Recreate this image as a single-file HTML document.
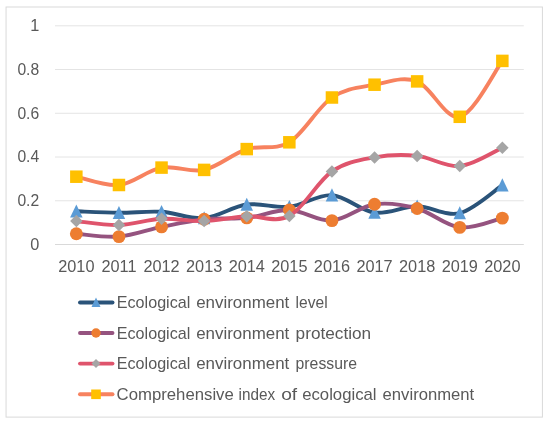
<!DOCTYPE html>
<html><head><meta charset="utf-8"><title>Chart</title>
<style>
html,body{margin:0;padding:0;background:#fff;}
body{width:550px;height:424px;overflow:hidden;}
svg{display:block;}
text{font-family:"Liberation Sans","DejaVu Sans",sans-serif;fill:#595959;}
.ax{font-size:16.3px;}
.lg{font-size:15.7px;}
</style></head><body>
<svg width="550" height="424" viewBox="0 0 550 424">
<rect x="0" y="0" width="550" height="424" fill="#ffffff"/>
<rect x="6.05" y="7" width="536.35" height="410.1" fill="#ffffff" stroke="#d9d9d9" stroke-width="1"/>
<line x1="55" x2="523.8" y1="25.80" y2="25.80" stroke="#e4e4e4" stroke-width="1"/>
<line x1="55" x2="523.8" y1="69.54" y2="69.54" stroke="#e4e4e4" stroke-width="1"/>
<line x1="55" x2="523.8" y1="113.28" y2="113.28" stroke="#e4e4e4" stroke-width="1"/>
<line x1="55" x2="523.8" y1="157.02" y2="157.02" stroke="#e4e4e4" stroke-width="1"/>
<line x1="55" x2="523.8" y1="200.76" y2="200.76" stroke="#e4e4e4" stroke-width="1"/>
<line x1="55" x2="523.8" y1="244.50" y2="244.50" stroke="#d9d9d9" stroke-width="1"/>
<text class="ax" x="39.2" y="31.10" text-anchor="end">1</text>
<text class="ax" x="39.2" y="74.84" text-anchor="end" textLength="21.8" lengthAdjust="spacingAndGlyphs">0.8</text>
<text class="ax" x="39.2" y="118.58" text-anchor="end" textLength="21.8" lengthAdjust="spacingAndGlyphs">0.6</text>
<text class="ax" x="39.2" y="162.32" text-anchor="end" textLength="21.8" lengthAdjust="spacingAndGlyphs">0.4</text>
<text class="ax" x="39.2" y="206.06" text-anchor="end" textLength="21.8" lengthAdjust="spacingAndGlyphs">0.2</text>
<text class="ax" x="39.2" y="249.80" text-anchor="end">0</text>
<text class="ax" x="76.35" y="272.3" text-anchor="middle">2010</text>
<text class="ax" x="118.95" y="272.3" text-anchor="middle">2011</text>
<text class="ax" x="161.55" y="272.3" text-anchor="middle">2012</text>
<text class="ax" x="204.15" y="272.3" text-anchor="middle">2013</text>
<text class="ax" x="246.75" y="272.3" text-anchor="middle">2014</text>
<text class="ax" x="289.35" y="272.3" text-anchor="middle">2015</text>
<text class="ax" x="331.95" y="272.3" text-anchor="middle">2016</text>
<text class="ax" x="374.55" y="272.3" text-anchor="middle">2017</text>
<text class="ax" x="417.15" y="272.3" text-anchor="middle">2018</text>
<text class="ax" x="459.75" y="272.3" text-anchor="middle">2019</text>
<text class="ax" x="502.35" y="272.3" text-anchor="middle">2020</text>
<path d="M76.35,211.30 C83.45,211.55 104.75,212.72 118.95,212.80 C133.15,212.88 147.35,210.92 161.55,211.80 C175.75,212.68 189.95,219.32 204.15,218.10 C218.35,216.88 232.55,206.38 246.75,204.50 C260.95,202.62 275.15,208.35 289.35,206.80 C303.55,205.25 317.75,194.23 331.95,195.20 C346.15,196.17 360.35,210.75 374.55,212.60 C388.75,214.45 402.95,206.22 417.15,206.30 C431.35,206.38 445.55,216.62 459.75,213.10 C473.95,209.58 495.25,189.85 502.35,185.20" fill="none" stroke="#2a5379" stroke-width="3.9" stroke-linecap="round" stroke-linejoin="round"/>
<polygon points="76.35,204.45 82.60,217.55 70.10,217.55" fill="#5b9bd5"/>
<polygon points="118.95,205.95 125.20,219.05 112.70,219.05" fill="#5b9bd5"/>
<polygon points="161.55,204.95 167.80,218.05 155.30,218.05" fill="#5b9bd5"/>
<polygon points="204.15,211.25 210.40,224.35 197.90,224.35" fill="#5b9bd5"/>
<polygon points="246.75,197.65 253.00,210.75 240.50,210.75" fill="#5b9bd5"/>
<polygon points="289.35,199.95 295.60,213.05 283.10,213.05" fill="#5b9bd5"/>
<polygon points="331.95,188.35 338.20,201.45 325.70,201.45" fill="#5b9bd5"/>
<polygon points="374.55,205.75 380.80,218.85 368.30,218.85" fill="#5b9bd5"/>
<polygon points="417.15,199.45 423.40,212.55 410.90,212.55" fill="#5b9bd5"/>
<polygon points="459.75,206.25 466.00,219.35 453.50,219.35" fill="#5b9bd5"/>
<polygon points="502.35,178.35 508.60,191.45 496.10,191.45" fill="#5b9bd5"/>
<path d="M76.35,233.70 C83.45,234.18 104.75,237.73 118.95,236.60 C133.15,235.47 147.35,229.80 161.55,226.90 C175.75,224.00 189.95,220.70 204.15,219.20 C218.35,217.70 232.55,219.43 246.75,217.90 C260.95,216.37 275.15,209.55 289.35,210.00 C303.55,210.45 317.75,221.55 331.95,220.60 C346.15,219.65 360.35,206.32 374.55,204.30 C388.75,202.28 402.95,204.65 417.15,208.50 C431.35,212.35 445.55,225.80 459.75,227.40 C473.95,229.00 495.25,219.65 502.35,218.10" fill="none" stroke="#95537f" stroke-width="3.9" stroke-linecap="round" stroke-linejoin="round"/>
<circle cx="76.35" cy="233.70" r="6.45" fill="#ed7d31"/>
<circle cx="118.95" cy="236.60" r="6.45" fill="#ed7d31"/>
<circle cx="161.55" cy="226.90" r="6.45" fill="#ed7d31"/>
<circle cx="204.15" cy="219.20" r="6.45" fill="#ed7d31"/>
<circle cx="246.75" cy="217.90" r="6.45" fill="#ed7d31"/>
<circle cx="289.35" cy="210.00" r="6.45" fill="#ed7d31"/>
<circle cx="331.95" cy="220.60" r="6.45" fill="#ed7d31"/>
<circle cx="374.55" cy="204.30" r="6.45" fill="#ed7d31"/>
<circle cx="417.15" cy="208.50" r="6.45" fill="#ed7d31"/>
<circle cx="459.75" cy="227.40" r="6.45" fill="#ed7d31"/>
<circle cx="502.35" cy="218.10" r="6.45" fill="#ed7d31"/>
<path d="M76.35,221.10 C83.45,221.77 104.75,225.48 118.95,225.10 C133.15,224.72 147.35,219.47 161.55,218.80 C175.75,218.13 189.95,221.52 204.15,221.10 C218.35,220.68 232.55,217.15 246.75,216.30 C260.95,215.45 275.15,223.48 289.35,216.00 C303.55,208.52 317.75,181.17 331.95,171.40 C346.15,161.63 360.35,159.98 374.55,157.40 C388.75,154.82 402.95,154.45 417.15,155.90 C431.35,157.35 445.55,167.45 459.75,166.10 C473.95,164.75 495.25,150.85 502.35,147.80" fill="none" stroke="#df546c" stroke-width="3.9" stroke-linecap="round" stroke-linejoin="round"/>
<polygon points="76.35,214.85 82.60,221.10 76.35,227.35 70.10,221.10" fill="#a5a5a5"/>
<polygon points="118.95,218.85 125.20,225.10 118.95,231.35 112.70,225.10" fill="#a5a5a5"/>
<polygon points="161.55,212.55 167.80,218.80 161.55,225.05 155.30,218.80" fill="#a5a5a5"/>
<polygon points="204.15,214.85 210.40,221.10 204.15,227.35 197.90,221.10" fill="#a5a5a5"/>
<polygon points="246.75,210.05 253.00,216.30 246.75,222.55 240.50,216.30" fill="#a5a5a5"/>
<polygon points="289.35,209.75 295.60,216.00 289.35,222.25 283.10,216.00" fill="#a5a5a5"/>
<polygon points="331.95,165.15 338.20,171.40 331.95,177.65 325.70,171.40" fill="#a5a5a5"/>
<polygon points="374.55,151.15 380.80,157.40 374.55,163.65 368.30,157.40" fill="#a5a5a5"/>
<polygon points="417.15,149.65 423.40,155.90 417.15,162.15 410.90,155.90" fill="#a5a5a5"/>
<polygon points="459.75,159.85 466.00,166.10 459.75,172.35 453.50,166.10" fill="#a5a5a5"/>
<polygon points="502.35,141.55 508.60,147.80 502.35,154.05 496.10,147.80" fill="#a5a5a5"/>
<path d="M76.35,176.70 C83.45,178.08 104.75,186.52 118.95,185.00 C133.15,183.48 147.35,170.12 161.55,167.60 C175.75,165.08 189.95,172.98 204.15,169.90 C218.35,166.82 232.55,153.70 246.75,149.10 C260.95,144.50 275.15,150.90 289.35,142.30 C303.55,133.70 317.75,107.10 331.95,97.50 C346.15,87.90 360.35,87.38 374.55,84.70 C388.75,82.02 402.95,76.05 417.15,81.40 C431.35,86.75 445.55,120.22 459.75,116.80 C473.95,113.38 495.25,70.22 502.35,60.90" fill="none" stroke="#f7825f" stroke-width="3.9" stroke-linecap="round" stroke-linejoin="round"/>
<rect x="70.10" y="170.45" width="12.50" height="12.50" fill="#ffc000"/>
<rect x="112.70" y="178.75" width="12.50" height="12.50" fill="#ffc000"/>
<rect x="155.30" y="161.35" width="12.50" height="12.50" fill="#ffc000"/>
<rect x="197.90" y="163.65" width="12.50" height="12.50" fill="#ffc000"/>
<rect x="240.50" y="142.85" width="12.50" height="12.50" fill="#ffc000"/>
<rect x="283.10" y="136.05" width="12.50" height="12.50" fill="#ffc000"/>
<rect x="325.70" y="91.25" width="12.50" height="12.50" fill="#ffc000"/>
<rect x="368.30" y="78.45" width="12.50" height="12.50" fill="#ffc000"/>
<rect x="410.90" y="75.15" width="12.50" height="12.50" fill="#ffc000"/>
<rect x="453.50" y="110.55" width="12.50" height="12.50" fill="#ffc000"/>
<rect x="496.10" y="54.65" width="12.50" height="12.50" fill="#ffc000"/>
<line x1="80" x2="112.5" y1="302.50" y2="302.50" stroke="#2a5379" stroke-width="3.9" stroke-linecap="round"/>
<polygon points="96.00,297.40 100.50,307.00 91.50,307.00" fill="#5b9bd5"/>
<text class="lg" y="308.10"><tspan x="116.8" textLength="73.5" lengthAdjust="spacingAndGlyphs">Ecological</tspan> <tspan x="196.2" textLength="93.1" lengthAdjust="spacingAndGlyphs">environment</tspan> <tspan x="295.6" textLength="32.0" lengthAdjust="spacingAndGlyphs">level</tspan></text>
<line x1="80" x2="112.5" y1="333.00" y2="333.00" stroke="#95537f" stroke-width="3.9" stroke-linecap="round"/>
<circle cx="96.00" cy="333.00" r="4.70" fill="#ed7d31"/>
<text class="lg" y="338.60"><tspan x="116.8" textLength="73.5" lengthAdjust="spacingAndGlyphs">Ecological</tspan> <tspan x="196.2" textLength="93.1" lengthAdjust="spacingAndGlyphs">environment</tspan> <tspan x="295.6" textLength="75.6" lengthAdjust="spacingAndGlyphs">protection</tspan></text>
<line x1="80" x2="112.5" y1="363.60" y2="363.60" stroke="#df546c" stroke-width="3.9" stroke-linecap="round"/>
<polygon points="96.00,359.10 100.50,363.60 96.00,368.10 91.50,363.60" fill="#a5a5a5"/>
<text class="lg" y="369.20"><tspan x="116.8" textLength="73.5" lengthAdjust="spacingAndGlyphs">Ecological</tspan> <tspan x="196.2" textLength="93.1" lengthAdjust="spacingAndGlyphs">environment</tspan> <tspan x="295.6" textLength="61.4" lengthAdjust="spacingAndGlyphs">pressure</tspan></text>
<line x1="80" x2="112.5" y1="394.30" y2="394.30" stroke="#f7825f" stroke-width="3.9" stroke-linecap="round"/>
<rect x="91.20" y="389.50" width="9.60" height="9.60" fill="#ffc000"/>
<text class="lg" y="399.90"><tspan x="116.6" textLength="117.2" lengthAdjust="spacingAndGlyphs">Comprehensive</tspan> <tspan x="238.6" textLength="36.6" lengthAdjust="spacingAndGlyphs">index</tspan> <tspan x="281.2" textLength="16.0" lengthAdjust="spacingAndGlyphs">of</tspan> <tspan x="302.2" textLength="74.4" lengthAdjust="spacingAndGlyphs">ecological</tspan> <tspan x="382.6" textLength="91.6" lengthAdjust="spacingAndGlyphs">environment</tspan></text>
</svg>
</body></html>
